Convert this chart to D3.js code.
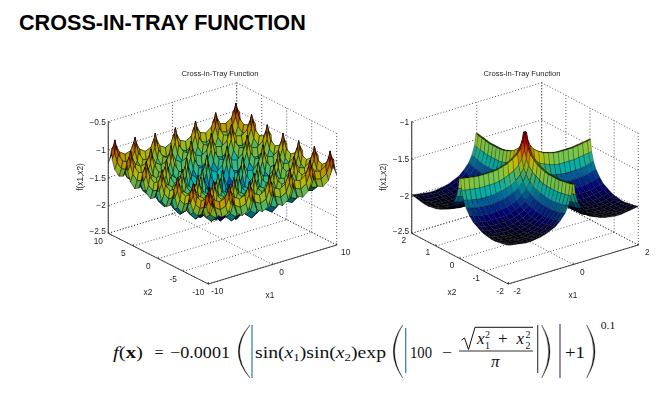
<!DOCTYPE html>
<html><head><meta charset="utf-8">
<style>html,body{margin:0;padding:0;background:#fff}svg{display:block}</style>
<script src="https://cdn.jsdelivr.net/npm/d3@7"></script></head><body>
<svg id="c" width="671" height="394"></svg>
<script>
// ---------- data ----------
const pageTitle = "CROSS-IN-TRAY FUNCTION";
const plotTitle = "Cross-in-Tray Function";
const wideX1Ticks = [-10, 0, 10];
const wideX2Ticks = [-10, -5, 0, 5, 10];
const wideZTicks = [-2.5, -2, -1.5, -1, -0.5];
const nearX1Ticks = [-2, 0, 2];
const nearX2Ticks = [-2, -1, 0, 1, 2];
const nearZTicks = [-2.5, -2, -1.5, -1];
// sample positions along one half axis (surface is mirrored about both axes)
const wideGrid = [0,.2,.7,1.57,2.44,2.94,3.14,3.34,3.84,4.71,5.58,6.08,6.28,6.48,6.98,7.85,8.72,9.22,9.42,9.62,10];
const wideSurface = [
[-1.26],
[-1.41,-1.58],
[-1.56,-1.75,-1.96],
[-1.58,-1.78,-2.00,-2.05],
[-1.47,-1.66,-1.86,-1.92,-1.81],
[-1.29,-1.45,-1.63,-1.69,-1.59,-1.40],
[-1.14,-1.28,-1.44,-1.49,-1.40,-1.23,-1.09],
[-1.27,-1.43,-1.61,-1.67,-1.57,-1.38,-1.22,-1.37],
[-1.41,-1.59,-1.78,-1.85,-1.75,-1.54,-1.36,-1.52,-1.70],
[-1.43,-1.61,-1.81,-1.88,-1.78,-1.57,-1.39,-1.56,-1.74,-1.78],
[-1.33,-1.50,-1.69,-1.75,-1.66,-1.47,-1.30,-1.46,-1.63,-1.67,-1.57],
[-1.17,-1.31,-1.47,-1.53,-1.45,-1.29,-1.14,-1.28,-1.43,-1.47,-1.38,-1.21],
[-1.03,-1.16,-1.30,-1.35,-1.28,-1.14,-1.00,-1.13,-1.26,-1.29,-1.22,-1.07,-.95],
[-1.15,-1.30,-1.46,-1.51,-1.44,-1.27,-1.13,-1.26,-1.41,-1.45,-1.37,-1.20,-1.06,-1.19],
[-1.27,-1.44,-1.61,-1.68,-1.59,-1.41,-1.25,-1.40,-1.56,-1.61,-1.52,-1.34,-1.18,-1.33,-1.47],
[-1.29,-1.46,-1.64,-1.71,-1.62,-1.43,-1.27,-1.43,-1.60,-1.65,-1.55,-1.37,-1.21,-1.36,-1.51,-1.55],
[-1.21,-1.36,-1.53,-1.59,-1.51,-1.34,-1.19,-1.33,-1.49,-1.54,-1.45,-1.28,-1.13,-1.27,-1.41,-1.45,-1.36],
[-1.06,-1.19,-1.34,-1.39,-1.32,-1.17,-1.04,-1.17,-1.30,-1.35,-1.27,-1.12,-.99,-1.11,-1.24,-1.27,-1.20,-1.05],
[-.93,-1.05,-1.18,-1.23,-1.17,-1.03,-.92,-1.03,-1.15,-1.19,-1.12,-.99,-.88,-.98,-1.10,-1.13,-1.06,-.93,-.82],
[-1.04,-1.17,-1.32,-1.37,-1.31,-1.16,-1.03,-1.15,-1.29,-1.33,-1.26,-1.11,-.98,-1.10,-1.23,-1.26,-1.19,-1.04,-.92,-1.03],
[-1.14,-1.28,-1.44,-1.50,-1.43,-1.26,-1.12,-1.26,-1.41,-1.46,-1.38,-1.21,-1.07,-1.21,-1.34,-1.38,-1.30,-1.14,-1.01,-1.13,-1.24]
];
const nearGrid = [.026,.07,.15,.25,.4,.55,.7,.85,1,1.15,1.3,1.45,1.6,1.75,1.9,2];
const nearSurface = [
[-1.06],
[-1.17,-1.29],
[-1.26,-1.39,-1.50],
[-1.32,-1.46,-1.57,-1.65],
[-1.37,-1.52,-1.64,-1.72,-1.79],
[-1.41,-1.55,-1.68,-1.76,-1.84,-1.89],
[-1.43,-1.58,-1.70,-1.79,-1.87,-1.92,-1.95],
[-1.45,-1.60,-1.72,-1.81,-1.89,-1.94,-1.98,-2.00],
[-1.46,-1.61,-1.73,-1.82,-1.90,-1.96,-1.99,-2.02,-2.03],
[-1.46,-1.61,-1.74,-1.83,-1.91,-1.96,-2.00,-2.03,-2.04,-2.05],
[-1.46,-1.61,-1.74,-1.83,-1.91,-1.96,-2.00,-2.03,-2.05,-2.06,-2.06],
[-1.46,-1.61,-1.74,-1.83,-1.91,-1.96,-2.00,-2.03,-2.04,-2.06,-2.06,-2.06],
[-1.45,-1.60,-1.73,-1.82,-1.90,-1.96,-1.99,-2.02,-2.04,-2.05,-2.05,-2.05,-2.05],
[-1.44,-1.59,-1.72,-1.81,-1.89,-1.94,-1.98,-2.01,-2.03,-2.04,-2.04,-2.04,-2.04,-2.03],
[-1.43,-1.58,-1.70,-1.79,-1.87,-1.93,-1.96,-1.99,-2.01,-2.02,-2.03,-2.03,-2.02,-2.01,-2.00],
[-1.42,-1.57,-1.69,-1.78,-1.86,-1.92,-1.95,-1.98,-2.00,-2.01,-2.02,-2.02,-2.01,-2.00,-1.99,-1.98]
];
const jetStops = ["#000080","#0000ff","#00ffff","#ffff00","#ff0000","#800000"];

// ---------- drawing ----------
const svg = d3.select("#c");
const SANS = "'Liberation Sans',Arial,sans-serif";
const SERIF = "'Liberation Serif','Times New Roman',serif";
svg.append("text").attr("x",19).attr("y",30).attr("font-family",SANS).attr("font-weight","bold")
   .attr("font-size",21.6).attr("fill","#000").text(pageTitle);

function plot(cfg){
  const g = svg.append("g").attr("class","plot").style("filter","blur(0.25px)");
  const {L,F,R,topY,dom,zDom,x1Ticks,x2Ticks,zTicks,grid,surface,cRange,x2Off} = cfg;
  const a1x = d3.scaleLinear().domain(dom).range([0,R[0]-F[0]]);
  const a1y = d3.scaleLinear().domain(dom).range([0,R[1]-F[1]]);
  const a2x = d3.scaleLinear().domain(dom).range([0,L[0]-F[0]]);
  const a2y = d3.scaleLinear().domain(dom).range([0,L[1]-F[1]]);
  const zs = d3.scaleLinear().domain(zDom).range([0,topY-L[1]]);
  const P = (x1,x2,z)=>[F[0]+a1x(x1)+a2x(x2), F[1]+a1y(x1)+a2y(x2)+zs(z)];
  const [lo,hi]=dom, [zlo,zhi]=zDom;
  const line = (A,B,dotted,col,w)=>g.append("line").attr("x1",A[0]).attr("y1",A[1]).attr("x2",B[0]).attr("y2",B[1])
      .attr("stroke",col||"#222").attr("stroke-width",w||.75).attr("stroke-dasharray",dotted?"1 2":null);
  // back walls and floor, dotted
  zTicks.concat(zhi).filter((v,i,a)=>a.indexOf(v)===i).forEach(z=>{
    line(P(lo,hi,z),P(hi,hi,z),true); line(P(hi,hi,z),P(hi,lo,z),true);
  });
  x1Ticks.forEach(t=>{ line(P(t,lo,zlo),P(t,hi,zlo),true); line(P(t,hi,zlo),P(t,hi,zhi),true); });
  x2Ticks.forEach(t=>{ line(P(lo,t,zlo),P(hi,t,zlo),true); line(P(hi,t,zlo),P(hi,t,zhi),true); });
  // surface
  const neg = grid.filter(v=>v>0).slice().reverse().map(v=>-v);
  const axis = neg.concat(grid);
  const idx = axis.map(v=>grid.indexOf(Math.abs(v)));
  const Z = (i,j)=>{const a=idx[i],b=idx[j];return surface[Math.max(a,b)][Math.min(a,b)];};
  const color = d3.scaleLinear().domain(d3.range(6).map((k,n)=>[0,1/8,3/8,5/8,7/8,1][n]*(cRange[1]-cRange[0])+cRange[0]))
      .range(jetStops).clamp(true);
  const corners=([i,j])=>[P(axis[i],axis[j],Z(i,j)),P(axis[i+1],axis[j],Z(i+1,j)),P(axis[i+1],axis[j+1],Z(i+1,j+1)),P(axis[i],axis[j+1],Z(i,j+1))];
  // a fine black mesh darkens a facet the more it is foreshortened on screen
  const floorArea=Math.abs(d3.polygonArea([P(lo,lo,zlo),P(hi,lo,zlo),P(hi,hi,zlo),P(lo,hi,zlo)]))/((hi-lo)*(hi-lo));
  const ink=q=>{
    const [i,j]=q, pa=(axis[i+1]-axis[i])*(axis[j+1]-axis[j]);
    const rho=Math.abs(d3.polygonArea(corners(q)))/pa/floorArea;
    return Math.max(cfg.minB,Math.min(cfg.maxB,1-cfg.inkK/Math.sqrt(Math.max(rho,.02))));
  };
  const quads=[];
  for(let i=axis.length-2;i>=0;i--) for(let j=axis.length-2;j>=0;j--) quads.push([i,j]);
  g.append("g").selectAll("path").data(quads).join("path")
    .attr("d",q=>"M"+corners(q).join("L")+"Z")
    .attr("fill",q=>{const [i,j]=q,c=d3.rgb(color((Z(i,j)+Z(i+1,j)+Z(i,j+1)+Z(i+1,j+1))/4)),b=ink(q);return d3.rgb(c.r*b,c.g*b,c.b*b).formatHex();})
    .attr("stroke","#000").attr("stroke-width",cfg.edge).attr("stroke-opacity",.8).attr("stroke-linejoin","round");
  // solid axes
  line(P(lo,hi,zlo),P(lo,hi,zhi),false,"#444",1.1);
  line(P(lo,hi,zlo),P(lo,lo,zlo),false,"#333",.9);
  line(P(lo,lo,zlo),P(hi,lo,zlo),false,"#333",.9);
  const txt=(x,y,s,anc,size)=>g.append("text").attr("x",x).attr("y",y).attr("text-anchor",anc||"middle")
      .attr("dominant-baseline","central").attr("font-family",SANS).attr("font-size",size||8.3).attr("fill","#222").text(s);
  zTicks.forEach(z=>{const p=P(lo,hi,z); line(p,[p[0]+2,p[1]+.6],false,"#333",.7); txt(p[0]-2.5,p[1]-(z===zlo?2.7:0),d3.format("")(z),"end");});
  x1Ticks.forEach(t=>{const p=P(t,lo,zlo); line(p,[p[0],p[1]-2],false,"#333",.7); txt(p[0]+9,p[1]+7,t);});
  x2Ticks.forEach(t=>{const p=P(lo,t,zlo); line(p,[p[0],p[1]-2],false,"#333",.7); txt(p[0]+x2Off[0],p[1]+x2Off[1],t);});
  txt(cfg.title[0],cfg.title[1],plotTitle,"middle",7.6);
  txt(cfg.x1Lab[0],cfg.x1Lab[1],"x1");
  txt(cfg.x2Lab[0],cfg.x2Lab[1],"x2");
  g.append("text").attr("transform",`translate(${cfg.zLab[0]},${cfg.zLab[1]}) rotate(-90)`).attr("text-anchor","middle")
   .attr("dominant-baseline","central").attr("font-family",SANS).attr("font-size",8.3).attr("fill","#222").text("f(x1,x2)");
}
plot({L:[108.3,233.3],F:[208.3,284],R:[336.7,245],topY:121.7,dom:[-10,10],zDom:[-2.5,-.5],
  x1Ticks:wideX1Ticks,x2Ticks:wideX2Ticks,zTicks:wideZTicks,grid:wideGrid,surface:wideSurface,
  cRange:[-2.06,-.72],edge:.55,x2Off:[-10,7.5],inkK:.72,minB:.25,maxB:.72,title:[220,73],x1Lab:[270,295],x2Lab:[148,292],zLab:[80,177]});
plot({L:[411.7,233.3],F:[508.3,284],R:[638.3,245],topY:121.7,dom:[-2,2],zDom:[-2.5,-1],
  x1Ticks:nearX1Ticks,x2Ticks:nearX2Ticks,zTicks:nearZTicks,grid:nearGrid,surface:nearSurface,
  cRange:[-2.06,-1.06],edge:.3,x2Off:[-8,6.5],inkK:.85,minB:.08,maxB:.85,title:[522,73],x1Lab:[573,295],x2Lab:[452,292],zLab:[383,177]});

// ---------- equation ----------
const eq = svg.append("g").attr("font-family",SERIF).attr("fill","#111");
function t(x,y,parts,size,len){
  const e=eq.append("text").attr("x",x).attr("y",y).attr("font-size",size||17);
  parts.forEach(p=>{
    const s=e.append("tspan").text(p.s);
    if(p.i) s.attr("font-style","italic");
    if(p.b) s.attr("font-weight","bold");
    if(p.fs) s.attr("font-size",p.fs);
    if(p.dy) s.attr("dy",p.dy);
  });
  if(len) e.attr("textLength",len).attr("lengthAdjust","spacingAndGlyphs");
  return e;
}
const R_ = s=>({s}), I=s=>({s,i:1}), sub=s=>({s,fs:11,dy:3}), up=s=>({s,dy:-3});
t(113,358,[I("f"),R_("("),{s:"x",b:1},R_(")")],17,30);
t(154.5,358,[R_("=")],17,9);
t(170,358,[R_("−0.0001")],17,60);
t(255,358,[R_("sin("),I("x"),sub("1"),up(")"),R_("sin("),I("x"),sub("2"),up(")"),R_("exp")],17,131);
t(410,358,[R_("100")],17,22);
t(442,358,[R_("−")],17,10);
t(477,344,[I("x")]);
t(485,337.7,[R_("2")],10);
t(485,348.5,[R_("1")],10);
t(498,344,[R_("+")]);
t(516.5,344,[I("x")]);
t(525.5,337.7,[R_("2")],10);
t(525.5,348.5,[R_("2")],10);
t(491,367,[I("π")]);
t(565,358,[R_("+1")],17,20);
t(600.7,329,[R_("0.1")],10.5,14.5);
const strokePath=(d,col,w)=>eq.append("path").attr("d",d).attr("fill","none").attr("stroke",col||"#111").attr("stroke-width",w||1);
// big parentheses as thin crescents
const paren=(tip,belly,thick)=>{
  const c1=2*belly-tip, c2=2*(belly+thick)-tip;
  eq.append("path").attr("d",`M${tip},325Q${c1},351.5 ${tip},378Q${c2},351.5 ${tip},325Z`)
    .attr("fill","#111").attr("stroke","#111").attr("stroke-width",.35);
};
paren(250,238.3,1.3); paren(402.7,393.3,1.3); paren(541.7,550,-1.3); paren(586.7,595,-1.3);
strokePath("M252,325V378","#2a78b8",1.2);
strokePath("M405.7,328V373","#2a78b8",1.2);
strokePath("M537.7,325V373","#333",1.1);
strokePath("M560,324V378","#4a2a66",1.1);
strokePath("M459,351H533","#333",1);
strokePath("M461.5,340L464.5,338L468.5,349.5L475,327.3H533","#111",1);
</script></body></html>
